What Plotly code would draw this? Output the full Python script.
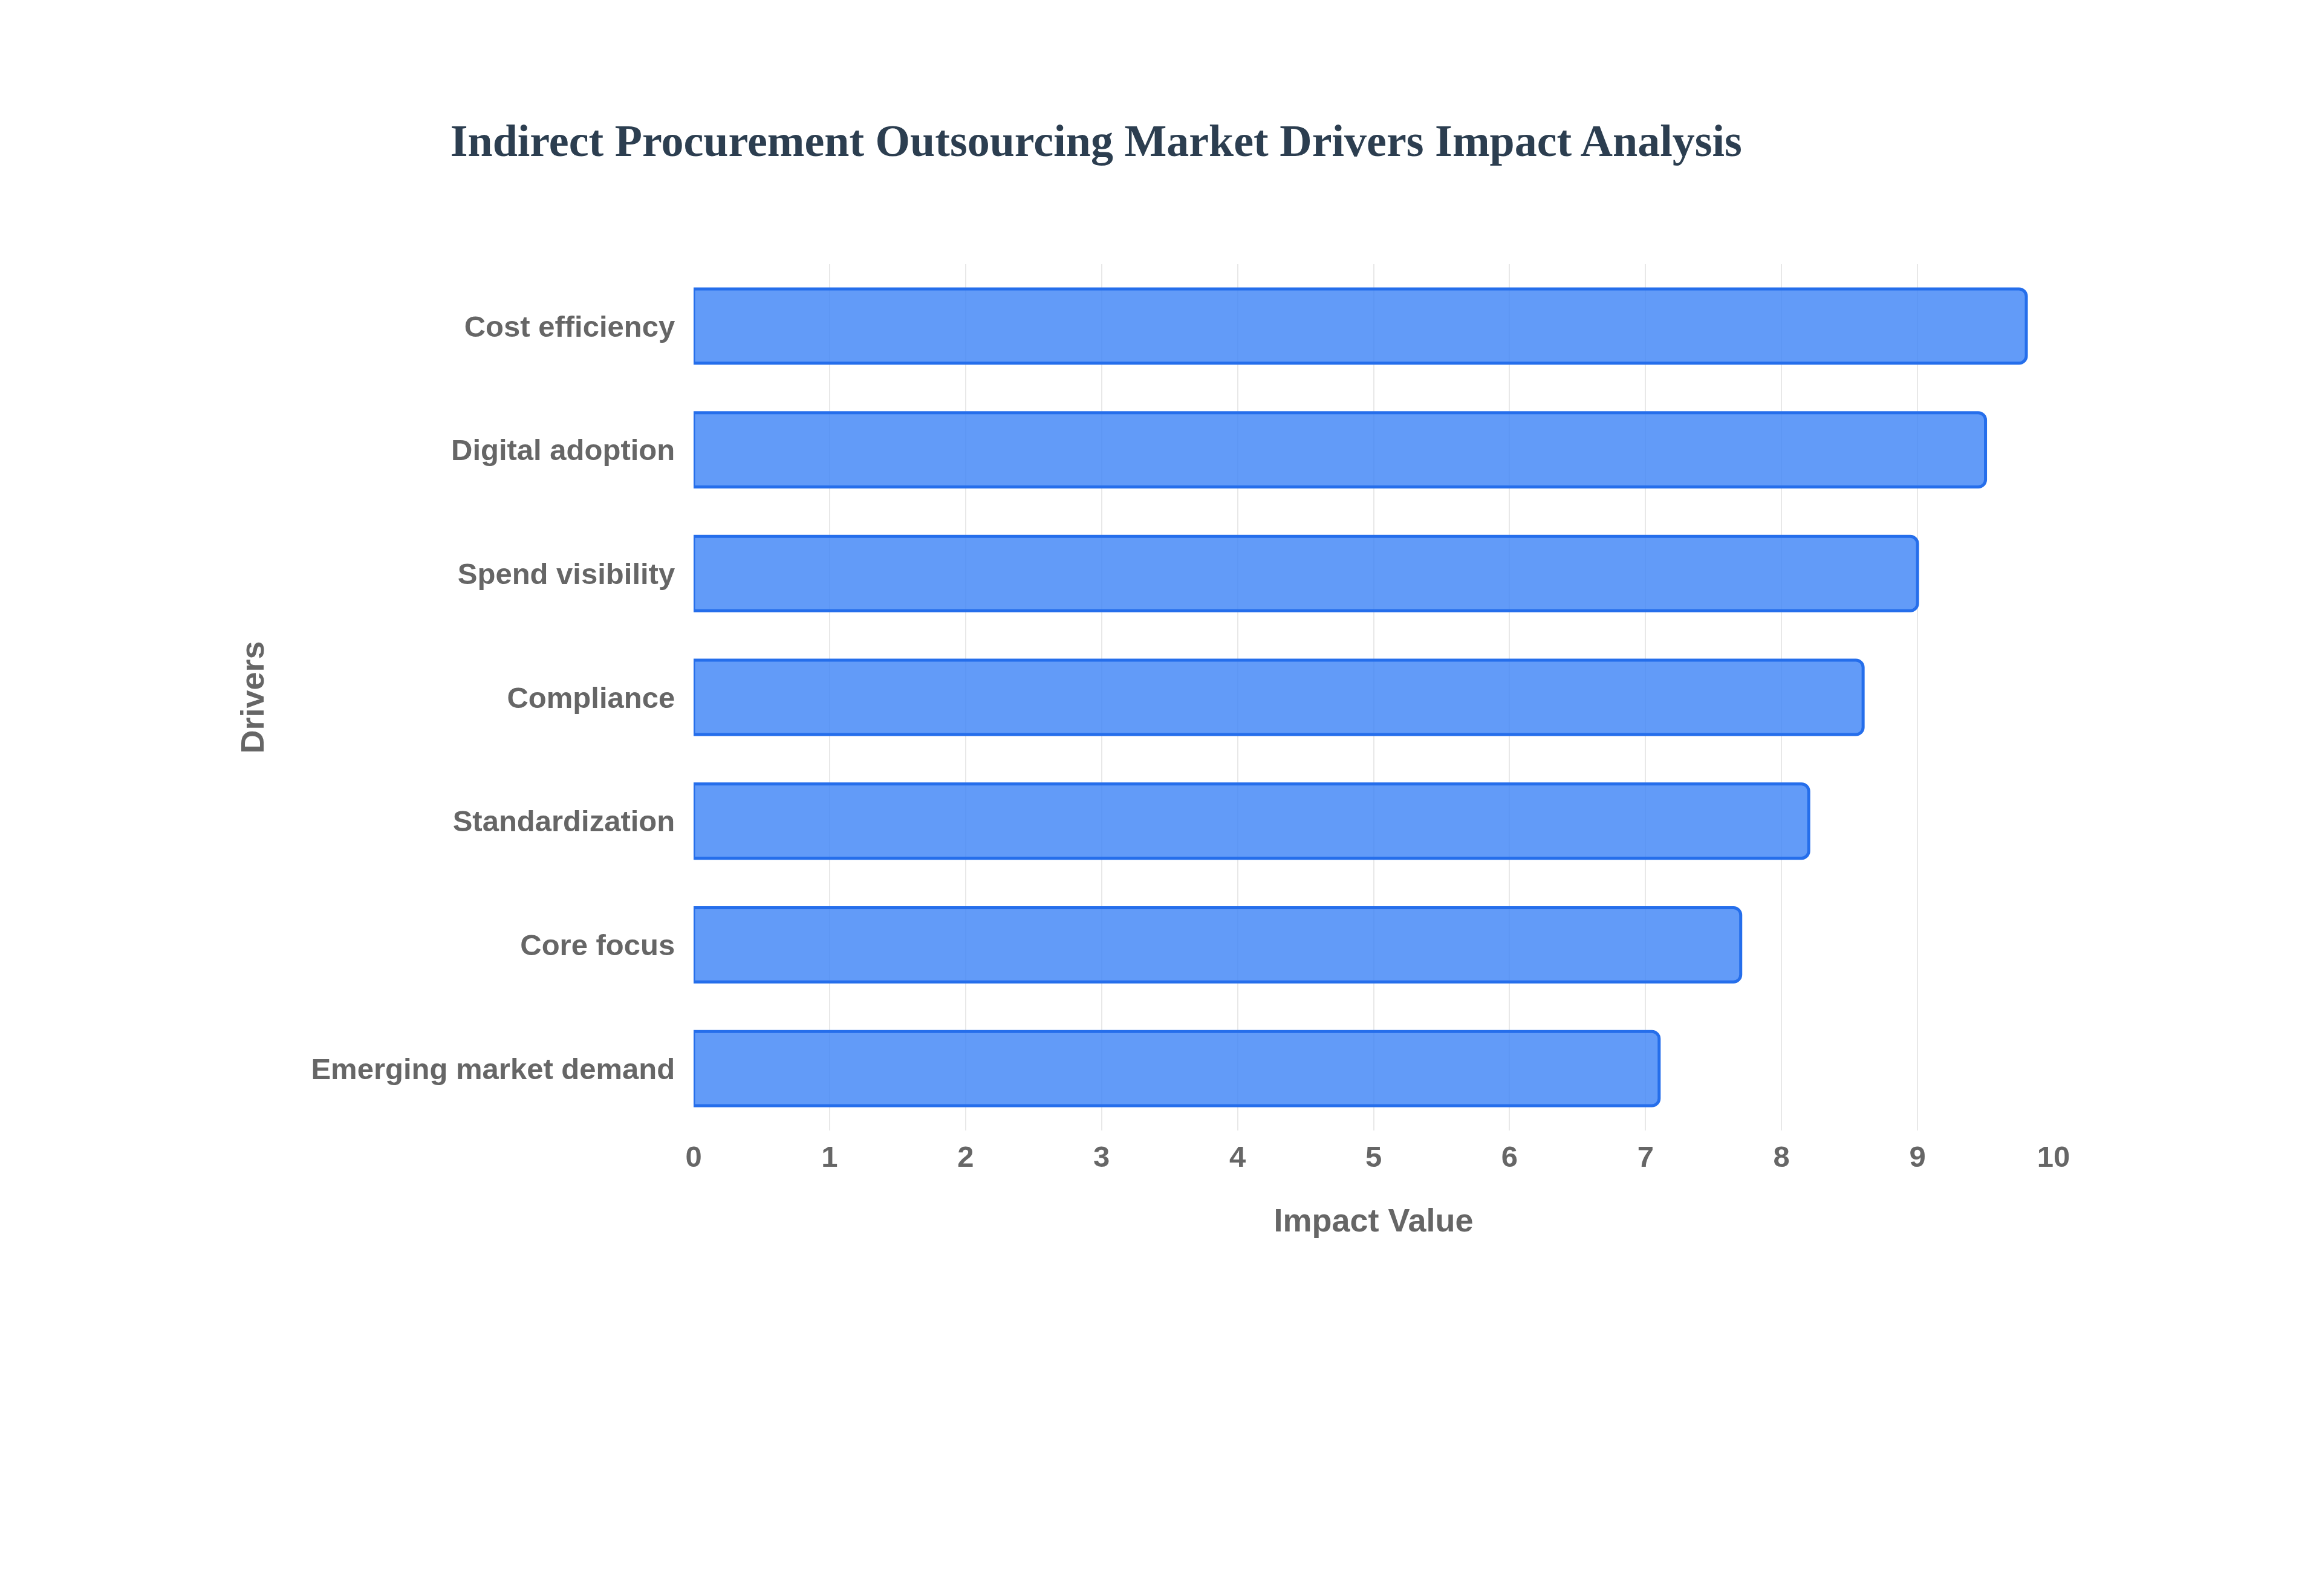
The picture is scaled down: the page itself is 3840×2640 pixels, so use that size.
import plotly.graph_objects as go

drivers = ["Cost efficiency", "Digital adoption", "Spend visibility", "Compliance",
           "Standardization", "Core focus", "Emerging market demand"]
impact = [9.8, 9.5, 9.0, 8.6, 8.2, 7.7, 7.1]

fig = go.Figure()
fig.add_trace(
    go.Bar(
        x=impact,
        y=drivers,
        orientation="h",
        marker=dict(
            color="rgba(59,130,246,0.8)",
            line=dict(color="rgb(37,110,235)", width=5),
            cornerradius=12,
        ),
    )
)

fig.update_layout(
    width=3840, height=2640,
    margin=dict(l=1139, r=452, t=429, b=778),
    plot_bgcolor="white",
    paper_bgcolor="white",
    bargap=0.4,
    showlegend=False,
    title=dict(
        text="<b>Indirect Procurement Outsourcing Market Drivers Impact Analysis</b>",
        font=dict(family="Liberation Serif", size=74, color="#2c3e50"),
        x=0.47, xanchor="center", y=0.925,
    ),
    font=dict(family="Liberation Sans", color="#666666"),
)
fig.update_xaxes(
    range=[0, 10], dtick=1,
    showgrid=True, gridcolor="#e8e8e8", gridwidth=2,
    zeroline=False,
    tickfont=dict(size=49, family="Liberation Sans", weight="bold"),
    title=dict(text="<b>Impact Value</b>", font=dict(size=54), standoff=60),
    ticks="", ticklabelstandoff=10,
)
fig.update_yaxes(
    categoryorder="array", categoryarray=drivers[::-1],
    showgrid=False,
    tickfont=dict(size=49, family="Liberation Sans", weight="bold"),
    title=dict(text="<b>Drivers</b>", font=dict(size=54), standoff=60),
    ticks="outside", ticklen=20, tickcolor="white",
)

fig.write_html("out.html")
